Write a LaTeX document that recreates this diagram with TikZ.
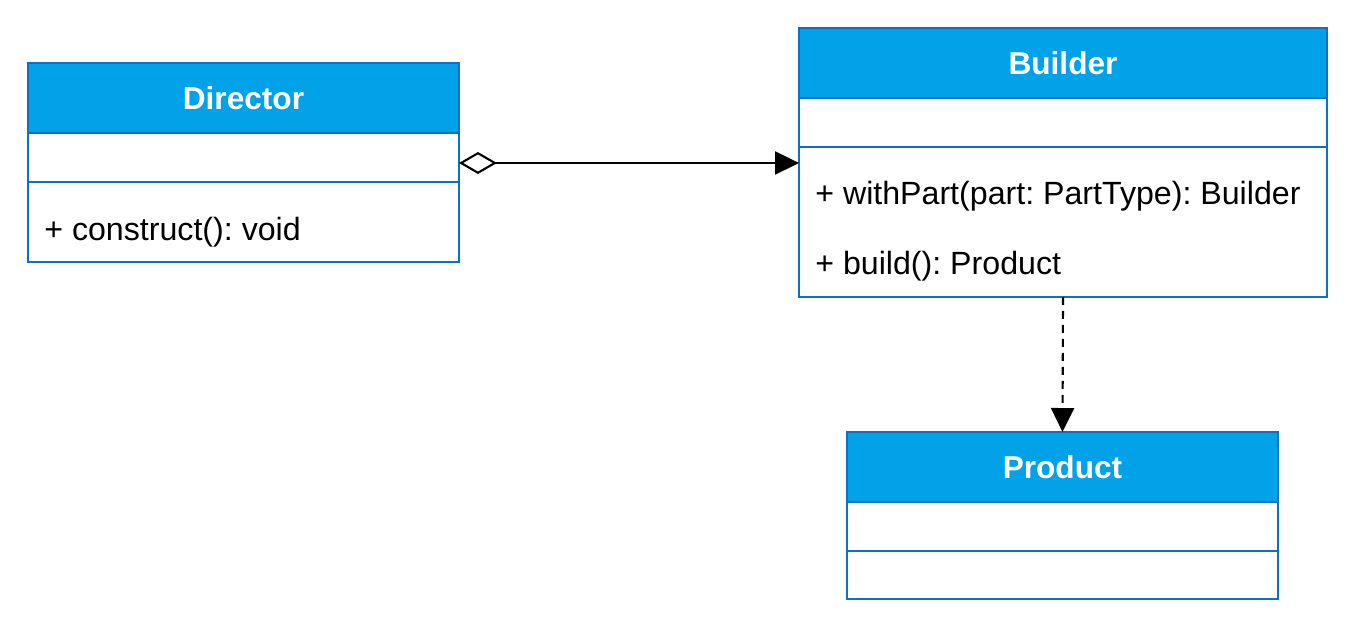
\documentclass[tikz,border=0pt]{standalone}
\usepackage{fontspec}
\setmainfont{Liberation Sans}
\frenchspacing
\usetikzlibrary{positioning,arrows.meta}
\definecolor{umlfill}{RGB}{1,162,232}
\definecolor{umlline}{RGB}{14,112,192}
\tikzset{
  classhead/.style={draw=umlline, fill=umlfill, line width=1.1pt, text=white, outer sep=0pt,
    font=\bfseries\fontsize{18pt}{22pt}\selectfont, minimum height=1.4cm, inner sep=0pt},
  classpart/.style={draw=umlline, line width=1.1pt, fill=white, inner sep=0pt, outer sep=0pt},
  member/.style={anchor=west, inner sep=0pt, font=\fontsize{18.3pt}{22pt}\selectfont},
  aggr/.style={line width=1.2pt, {Diamond[open,length=0.76cm,width=0.44cm]}-{Triangle[length=0.48cm,width=0.46cm]}},
  depend/.style={line width=1.2pt, dash pattern=on 0.16cm off 0.12cm, -{Triangle[length=0.48cm,width=0.46cm]}}
}
\begin{document}
\begin{tikzpicture}[x=0.02cm, y=-0.02cm]
\useasboundingbox (0,0) rectangle (1358,628);
% Director
\node[classhead, minimum width=8.62cm] (dirhead) at (243.5,98) {Director};
\node[classpart, minimum width=8.62cm, minimum height=0.98cm, below=0pt of dirhead] (dirattr) {};
\node[classpart, minimum width=8.62cm, minimum height=1.6cm, below=0pt of dirattr] (dirops) {};
\node[member] (dirconstruct) at (44,232) {+ construct(): void};
% Builder
\node[classhead, minimum width=10.56cm] (bldhead) at (1063,63) {Builder};
\node[classpart, minimum width=10.56cm, minimum height=0.98cm, below=0pt of bldhead] (bldattr) {};
\node[classpart, minimum width=10.56cm, minimum height=3.0cm, below=0pt of bldattr] (bldops) {};
\node[member] (bldwithpart) at (815,196) {+ withPart(part: PartType): Builder};
\node[member] (bldbuild) at (815,266) {+ build(): Product};
% Product
\node[classhead, minimum width=8.62cm] (prodhead) at (1062.5,467) {Product};
\node[classpart, minimum width=8.62cm, minimum height=0.98cm, below=0pt of prodhead] (prodattr) {};
\node[classpart, minimum width=8.62cm, minimum height=0.96cm, below=0pt of prodattr] (prodops) {};
% Relations
\coordinate (aggrstart) at ([yshift=-0.11cm]dirattr.east);
\draw[aggr] (aggrstart) -- (aggrstart -| bldops.west);
\draw[depend] (bldops.south) -- (prodhead.north);
\end{tikzpicture}
\end{document}
